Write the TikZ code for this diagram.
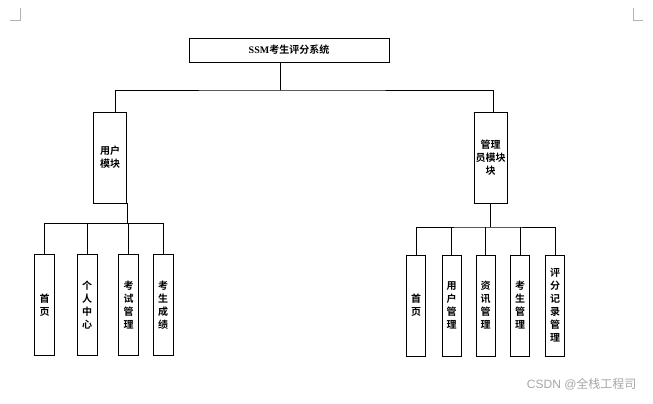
\documentclass[tikz,border=0pt]{standalone}
\usepackage{fontspec}
\newfontfamily\cjk{Noto Sans CJK SC}[BoldFont={Noto Sans CJK SC Bold}]
\begin{document}
\begin{tikzpicture}[x=1pt,y=-1pt,
  bx/.style={draw,line width=0.9pt,inner sep=0pt,font=\cjk\bfseries\fontsize{10}{13}\selectfont,align=center},
  ln/.style={line width=0.9pt}]
\useasboundingbox (0,0) rectangle (653,404);
\draw[gray!60] (10,20)--(20,20)--(20,8);
\draw[gray!60] (643,20)--(633,20)--(633,8);
\node[bx,minimum width=200pt,minimum height=24pt] (root) at (289,50) {\fontspec{Liberation Serif}\bfseries SSM\cjk 考生评分系统};
\node[bx,minimum width=33pt,minimum height=91pt] (user) at (110,157.5) {用户\\模块};
\node[bx,minimum width=33pt,minimum height=91pt] (admin) at (490.5,157.5) {管理\\员模块\\块};
\foreach \n/\x/\t in {u1/44.5/首\\页, u2/87/个\\人\\中\\心, u3/128.5/考\\试\\管\\理, u4/163/考\\生\\成\\绩}
  \node[bx,minimum width=20pt,minimum height=101pt] (\n) at (\x,305) {\t};
\foreach \n/\x/\t in {a1/416/首\\页, a2/451.5/用\\户\\管\\理, a3/485.5/资\\讯\\管\\理, a4/520/考\\生\\管\\理, a5/555/评\\分\\记\\录\\管\\理}
  \node[bx,minimum width=19pt,minimum height=101pt] (\n) at (\x,305.5) {\t};
\coordinate (rj) at (280,90);
\draw[ln] (root.south -| rj) -- (rj);
\draw[ln] (user.north -| 115,0) |- (rj) -| (admin.north -| 493,0);
\coordinate (uj) at (127,223);
\draw[ln] (user.south -| uj) -- (uj);
\draw[ln] (u1.north) |- (uj);
\draw[ln] (u4.north) |- (uj);
\draw[ln] (u2.north) -- (u2.north |- uj);
\draw[ln] (u3.north) -- (u3.north |- uj);
\coordinate (aj) at (490.5,227);
\draw[ln] (admin.south) -- (aj);
\draw[ln] (a1.north) |- (aj) -| (a5.north);
\foreach \n in {a2,a3,a4} \draw[ln] (\n.north) -- (\n.north |- aj);
\node[text=gray!70,font=\cjk\fontsize{12}{14}\selectfont,anchor=east] (wm) at (640,384) {\fontspec{Liberation Sans}CSDN @\cjk 全栈工程司};
\end{tikzpicture}
\end{document}
